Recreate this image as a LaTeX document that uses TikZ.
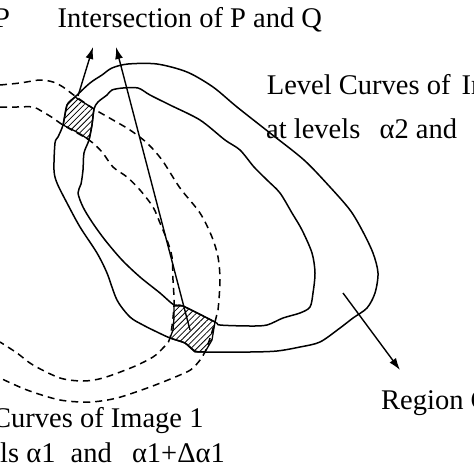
\documentclass[tikz,border=0pt]{standalone}
\usepackage{fontspec}
\setmainfont{Liberation Serif}
\usetikzlibrary{arrows.meta,patterns.meta}
\tikzset{
  curve/.style={line width=1.5pt, line join=round, line cap=round},
  dcurve/.style={line width=1.5pt, dash pattern=on 7pt off 5pt},
  hatchbox/.style={line width=1.3pt, line join=round, pattern={Lines[angle=45,distance=4.2pt,line width=0.8pt]}},
  arr/.style={line width=1.4pt, -{Latex[length=12pt,width=8pt]}},
  lbl/.style={anchor=base west, inner sep=0pt, font=\fontsize{28.5}{32}\selectfont}
}
\begin{document}
\begin{tikzpicture}[x=1pt,y=-1pt]
\useasboundingbox (0,0) rectangle (474,474);
\clip (0,0) rectangle (474,474);
% hatched intersections
\draw[hatchbox] (75,97) -- (94,109) -- (92,125) -- (89,140) -- (82,135) -- (73,130) -- (63,125) -- (64,120) -- (67,105) -- cycle;
\draw[hatchbox] (174,306) -- (183,306) -- (215,322) -- (212,340) -- (205,352) -- (195,352) -- (185,343) -- (170,338) -- (173,330) -- (174,318) -- cycle;
% outer solid curve (Image 2)
\draw[curve] plot[smooth cycle, tension=0.5] coordinates {
 (75,97) (90,83) (102,75) (112,68) (128,64) (157,64) (187,72) (213,87) (237,107)
 (270,133) (304,160) (330,187) (350,210) (362,230) (373,253) (378,273) (375,293)
 (367,308) (353,318) (340,328) (320,342) (300,347) (277,351) (250,352) (205,352)
 (195,351) (185,343) (170,338) (157,332) (143,325) (130,317) (117,300) (107,273)
 (97,253) (80,227) (67,203) (57,183) (54,170) (55,143) (58,137) (63,125) (67,105)};
% inner solid curve (Image 2)
\draw[curve] plot[smooth cycle, tension=0.5] coordinates {
 (94,109) (98,102) (107,95) (112,90) (123,88) (138,88) (150,95) (170,105) (200,120)
 (225,140) (240,150) (254,167) (267,180) (280,193) (292,213) (302,230) (312,253)
 (315,273) (313,293) (310,307) (300,313) (283,318) (267,325) (250,326) (220,325)
 (215,322) (183,306) (174,305) (160,293) (140,277) (122,260) (105,240) (92,222)
 (83,207) (78,193) (81,184) (83,170) (84,153) (89,140) (92,125)};
% outer dashed curve (Image 1)
\draw[dcurve] plot[smooth, tension=0.5] coordinates {
 (0,85) (20,83) (40,80) (53,82) (63,87) (75,96) (94,109) (113,120) (130,130)
 (147,143) (162,160) (180,188) (200,213) (212,237) (218,257) (220,280) (218,310)
 (215,322) (205,352) (193,368) (180,375) (150,387) (117,398) (90,402) (60,400)
 (27,390) (0,378)};
% inner dashed curve (Image 1)
\draw[dcurve] plot[smooth, tension=0.5] coordinates {
 (0,107) (17,107) (33,107) (43,112) (53,118) (63,125) (89,140) (102,152) (113,167)
 (127,177) (140,190) (153,207) (160,223) (167,240) (172,257) (173,280) (174,306)
 (170,338) (163,348) (153,357) (133,367) (103,378) (83,381) (60,378) (33,365)
 (17,353) (0,342)};
% arrows
\coordinate (pStart) at (78,96);
\coordinate (pEnd) at (93,47);
\coordinate (qStart) at (190,330);
\coordinate (qEnd) at (116,47);
\coordinate (cStart) at (343,293);
\coordinate (cEnd) at (400,370);
\draw[arr] (pStart) -- (pEnd);
\draw[arr] (qStart) -- (qEnd);
\draw[arr] (cStart) -- (cEnd);
% labels
\node[lbl] (lp) at (-6,27) {P};
\node[lbl] (lint) at (57.5,27) {Intersection of P and Q};
\node[lbl] (lv2a) at (266.7,94) {Level Curves of\hspace{4pt} Im};
\node[lbl] (lv2b) at (266,138) {at levels\ \ \hspace{5pt}α2 and};
\node[lbl] (lv1a) at (-8,427) {Curves of Image 1};
\node[lbl] (lv1b) at (0,462) {ls α1\hspace{8pt} and\ \ \hspace{6pt}α1+Δα1};
\node[lbl] (lreg) at (381,409) {Region C};
\end{tikzpicture}
\end{document}
